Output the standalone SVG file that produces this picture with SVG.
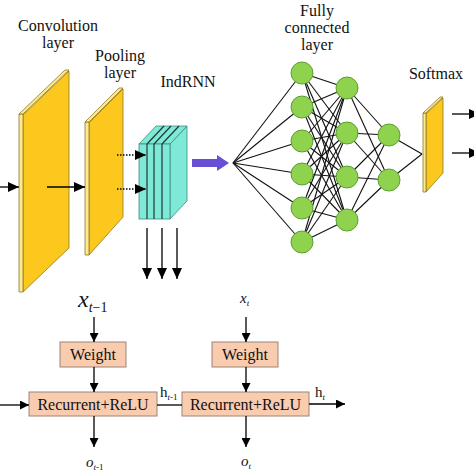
<svg xmlns="http://www.w3.org/2000/svg" width="474" height="474" viewBox="0 0 474 474" font-family="Liberation Serif, DejaVu Serif, serif">
<defs>
<marker id="ah" markerUnits="userSpaceOnUse" markerWidth="12" markerHeight="10" refX="11" refY="5" orient="auto"><path d="M0,0 L11,5 L0,10 z" fill="#000"/></marker>
<marker id="ahs" markerUnits="userSpaceOnUse" markerWidth="10" markerHeight="9" refX="9" refY="4.5" orient="auto"><path d="M0,0 L9,4.5 L0,9 z" fill="#000"/></marker>
<style>
text{fill:#111;}
.lbl{font-size:16px;text-anchor:middle;}
.face{fill:#FCC81E;stroke:#8C7A2A;stroke-width:0.8;}
.edge{fill:#FFE98A;stroke:#8C7A2A;stroke-width:0.8;}
.ln{stroke:#000;stroke-width:1.3;fill:none;}
.fc{stroke:#111;stroke-width:1.1;fill:none;}
.node{fill:#8ED24E;stroke:#5E9E32;stroke-width:1;}
.box{fill:#F9CBAF;stroke:#9A8478;stroke-width:1;}
.teal{fill:#7FE9D8;stroke:#3a8a80;stroke-width:0.8;}
.it{font-style:italic;}
</style>
</defs>

<g id="conv">
<polygon class="face" points="23,115 69,71 69,248 23,292"/>
<polygon class="edge" points="19,114 23,114 23,292 19,292"/>
<polygon class="edge" points="19,114 65,70 69,70 23,114"/>
<text class="lbl" x="58" y="31" font-family="Liberation Serif, DejaVu Serif, serif">Convolution</text>
<text class="lbl" x="58" y="48" font-family="Liberation Serif, DejaVu Serif, serif">layer</text>
</g>

<g id="pool">
<polygon class="face" points="89,123 123,89 123,217 89,255"/>
<polygon class="edge" points="85,122 89,122 89,255 85,255"/>
<polygon class="edge" points="85,122 119,88 123,88 89,122"/>
<text class="lbl" x="120" y="61" font-family="Liberation Serif, DejaVu Serif, serif">Pooling</text>
<text class="lbl" x="120" y="78" font-family="Liberation Serif, DejaVu Serif, serif">layer</text>
</g>

<g id="indrnn">
<polygon class="teal" points="170,144 187,126 187,201 170,219" fill="#6FDFCF"/>
<polygon class="teal" points="139,144 156,126 187,126 170,144"/>
<rect class="teal" x="139" y="144" width="31" height="75"/>
<g stroke="#1d3a36" stroke-width="1.2">
<line x1="147" y1="144" x2="147" y2="219"/>
<line x1="154" y1="144" x2="154" y2="219"/>
<line x1="162" y1="144" x2="162" y2="219"/>
<line x1="147" y1="144" x2="164" y2="126"/>
<line x1="154" y1="144" x2="171" y2="126"/>
<line x1="162" y1="144" x2="179" y2="126"/>
</g>
<text class="lbl" x="188" y="87" font-family="Liberation Serif, DejaVu Serif, serif">IndRNN</text>
</g>

<g id="fc">
<g class="fc">
<line x1="233" y1="163" x2="302" y2="73"/><line x1="233" y1="163" x2="302" y2="107"/><line x1="233" y1="163" x2="302" y2="141"/><line x1="233" y1="163" x2="302" y2="174"/><line x1="233" y1="163" x2="302" y2="208"/><line x1="233" y1="163" x2="302" y2="242"/>
<line x1="302" y1="73" x2="347" y2="88"/><line x1="302" y1="73" x2="347" y2="133"/><line x1="302" y1="73" x2="347" y2="177"/><line x1="302" y1="73" x2="347" y2="220"/>
<line x1="302" y1="107" x2="347" y2="88"/><line x1="302" y1="107" x2="347" y2="133"/><line x1="302" y1="107" x2="347" y2="177"/><line x1="302" y1="107" x2="347" y2="220"/>
<line x1="302" y1="141" x2="347" y2="88"/><line x1="302" y1="141" x2="347" y2="133"/><line x1="302" y1="141" x2="347" y2="177"/><line x1="302" y1="141" x2="347" y2="220"/>
<line x1="302" y1="174" x2="347" y2="88"/><line x1="302" y1="174" x2="347" y2="133"/><line x1="302" y1="174" x2="347" y2="177"/><line x1="302" y1="174" x2="347" y2="220"/>
<line x1="302" y1="208" x2="347" y2="88"/><line x1="302" y1="208" x2="347" y2="133"/><line x1="302" y1="208" x2="347" y2="177"/><line x1="302" y1="208" x2="347" y2="220"/>
<line x1="302" y1="242" x2="347" y2="88"/><line x1="302" y1="242" x2="347" y2="133"/><line x1="302" y1="242" x2="347" y2="177"/><line x1="302" y1="242" x2="347" y2="220"/>
<line x1="347" y1="88" x2="389" y2="135"/><line x1="347" y1="88" x2="389" y2="180"/>
<line x1="347" y1="133" x2="389" y2="135"/><line x1="347" y1="133" x2="389" y2="180"/>
<line x1="347" y1="177" x2="389" y2="135"/><line x1="347" y1="177" x2="389" y2="180"/>
<line x1="347" y1="220" x2="389" y2="135"/><line x1="347" y1="220" x2="389" y2="180"/>
<line x1="389" y1="135" x2="422" y2="154"/><line x1="389" y1="180" x2="422" y2="154"/>
</g>
<circle class="node" cx="302" cy="73" r="11"/><circle class="node" cx="302" cy="107" r="11"/><circle class="node" cx="302" cy="141" r="11"/><circle class="node" cx="302" cy="174" r="11"/><circle class="node" cx="302" cy="208" r="11"/><circle class="node" cx="302" cy="242" r="11"/>
<circle class="node" cx="347" cy="88" r="11"/><circle class="node" cx="347" cy="133" r="11"/><circle class="node" cx="347" cy="177" r="11"/><circle class="node" cx="347" cy="220" r="11"/>
<circle class="node" cx="389" cy="135" r="11"/><circle class="node" cx="389" cy="180" r="11"/>
<text class="lbl" x="317" y="16" font-family="Liberation Serif, DejaVu Serif, serif">Fully</text>
<text class="lbl" x="317" y="33" font-family="Liberation Serif, DejaVu Serif, serif">connected</text>
<text class="lbl" x="317" y="50" font-family="Liberation Serif, DejaVu Serif, serif">layer</text>
</g>

<g id="softmax">
<polygon class="face" points="426,114 443,98 443,173 426,192"/>
<polygon class="edge" points="423,113 426,113 426,192 423,192"/>
<polygon class="edge" points="423,113 440,97 443,97 426,113"/>
<text class="lbl" x="436" y="79" font-family="Liberation Serif, DejaVu Serif, serif">Softmax</text>
</g>

<g id="weight1">
<rect class="box" x="60" y="342" width="66" height="25"/>
<text class="lbl" x="93" y="360" font-family="Liberation Serif, DejaVu Serif, serif">Weight</text>
</g>
<g id="rec1">
<rect class="box" x="29" y="392" width="128" height="24"/>
<text class="lbl" x="93" y="410" font-family="Liberation Serif, DejaVu Serif, serif">Recurrent+ReLU</text>
</g>
<g id="weight2">
<rect class="box" x="212" y="342" width="66" height="25"/>
<text class="lbl" x="245" y="360" font-family="Liberation Serif, DejaVu Serif, serif">Weight</text>
</g>
<g id="rec2">
<rect class="box" x="182" y="392" width="127" height="24"/>
<text class="lbl" x="245.5" y="410" font-family="Liberation Serif, DejaVu Serif, serif">Recurrent+ReLU</text>
</g>

<g id="labels" font-family="Liberation Serif, DejaVu Serif, serif">
<text class="it" x="78" y="307" font-size="24">x<tspan dy="5" font-size="14">t</tspan><tspan font-style="normal" font-size="14">−1</tspan></text>
<text class="it" x="240" y="303" font-size="15">x<tspan dy="3" font-size="9">t</tspan></text>
<text class="it" x="86" y="467" font-size="15">o<tspan dy="3" font-size="9">t</tspan><tspan font-style="normal" font-size="9">-1</tspan></text>
<text class="it" x="241" y="466" font-size="15">o<tspan dy="3" font-size="9">t</tspan></text>
<text x="160" y="397" font-size="15">h<tspan dy="3" font-size="9" font-style="italic">t</tspan><tspan font-size="9">-1</tspan></text>
<text x="315" y="397" font-size="15">h<tspan dy="3" font-size="9" font-style="italic">t</tspan></text>
</g>

<g id="connectors">
<line class="ln" x1="0" y1="187" x2="19" y2="187" marker-end="url(#ah)"/>
<line class="ln" x1="47" y1="187" x2="85" y2="187" marker-end="url(#ah)"/>
<line class="ln" x1="117" y1="155" x2="146" y2="155" stroke-dasharray="1.5,1.5" marker-end="url(#ah)"/>
<line class="ln" x1="117" y1="189" x2="146" y2="189" stroke-dasharray="1.5,1.5" marker-end="url(#ah)"/>
<line class="ln" x1="147" y1="228" x2="147" y2="279" marker-end="url(#ah)"/>
<line class="ln" x1="162" y1="228" x2="162" y2="279" marker-end="url(#ah)"/>
<line class="ln" x1="177" y1="228" x2="177" y2="279" marker-end="url(#ah)"/>
<polygon points="192,159 217,159 217,155 229,163 217,171 217,167 192,167" fill="#6A4FD4"/>
<line class="ln" x1="452" y1="114" x2="480" y2="114" marker-end="url(#ah)"/>
<line class="ln" x1="452" y1="153" x2="480" y2="153" marker-end="url(#ah)"/>
<line class="ln" x1="94" y1="317" x2="94" y2="342" marker-end="url(#ahs)"/>
<line class="ln" x1="94" y1="367" x2="94" y2="392" marker-end="url(#ahs)"/>
<line class="ln" x1="94" y1="416" x2="94" y2="447" marker-end="url(#ahs)"/>
<line class="ln" x1="0" y1="405" x2="29" y2="405" marker-end="url(#ahs)"/>
<line class="ln" x1="157" y1="405" x2="182" y2="405"/>
<line class="ln" x1="246" y1="317" x2="246" y2="342" marker-end="url(#ahs)"/>
<line class="ln" x1="246" y1="367" x2="246" y2="392" marker-end="url(#ahs)"/>
<line class="ln" x1="246" y1="416" x2="246" y2="447" marker-end="url(#ahs)"/>
<line class="ln" x1="309" y1="404" x2="345" y2="404" marker-end="url(#ahs)"/>
</g>
</svg>
